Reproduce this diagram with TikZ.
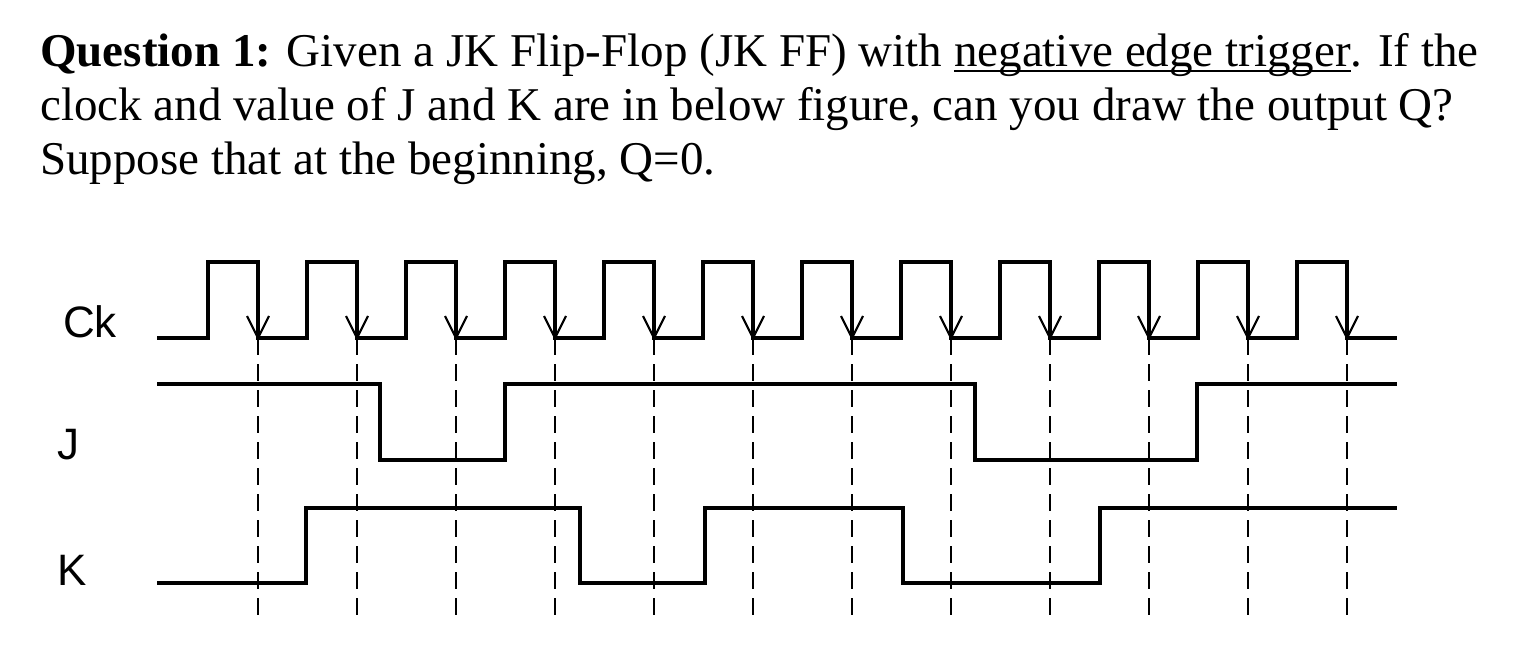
\documentclass[tikz,border=0pt]{standalone}
\usepackage{fontspec}
\setmainfont{Liberation Serif}
\newfontfamily\arial{Liberation Sans}
\newcommand{\myul}[1]{\setbox0\hbox{#1}\rlap{\rule[-5pt]{\wd0}{2pt}}\box0}
\begin{document}
\begin{tikzpicture}[x=1pt,y=-1pt,
  sig/.style={line width=3.2pt,line join=miter},
  guide/.style={line width=1.6pt,dash pattern=on 17pt off 9pt},
  lbl/.style={font=\arial\fontsize{44}{48}\selectfont,anchor=base},
  txt/.style={font=\fontsize{47}{52}\selectfont,anchor=base west,inner sep=0pt}]
\useasboundingbox (0,0) rectangle (1520,660);
\node[txt] (l1) at (40,67) {\textbf{Question 1:} Given a JK Flip-Flop (JK FF) with \myul{negative edge trigger}. If the};
\node[txt] (l2) at (40,121) {clock and value of J and K are in below figure, can you draw the output Q?};
\node[txt] (l3) at (40,175) {Suppose that at the beginning, Q=0.};
\node[lbl] (ck) at (90,337) {Ck};
\node[lbl] (j) at (68,459) {J};
\node[lbl] (k) at (72,585) {K};
\foreach \i in {0,...,11}{
  \pgfmathsetmacro\f{258+99*\i}
  \draw[guide] (\f,338) -- (\f,615);
  \draw[line width=2.2pt] (\f-11,316) -- (\f,338) -- (\f+11,316);
}
\draw[sig] (157,338)
  \foreach \i in {0,...,11}{
    -| ({208+99*\i},262) -| ({258+99*\i},338)
  } -- (1397,338);
\draw[sig] (157,384) -| (380,460) -| (505,384) -| (975,460) -| (1197,384) -- (1397,384);
\draw[sig] (157,583) -| (306,508) -| (580,583) -| (705,508) -| (903,583) -| (1100,508) -- (1397,508);
\end{tikzpicture}
\end{document}
